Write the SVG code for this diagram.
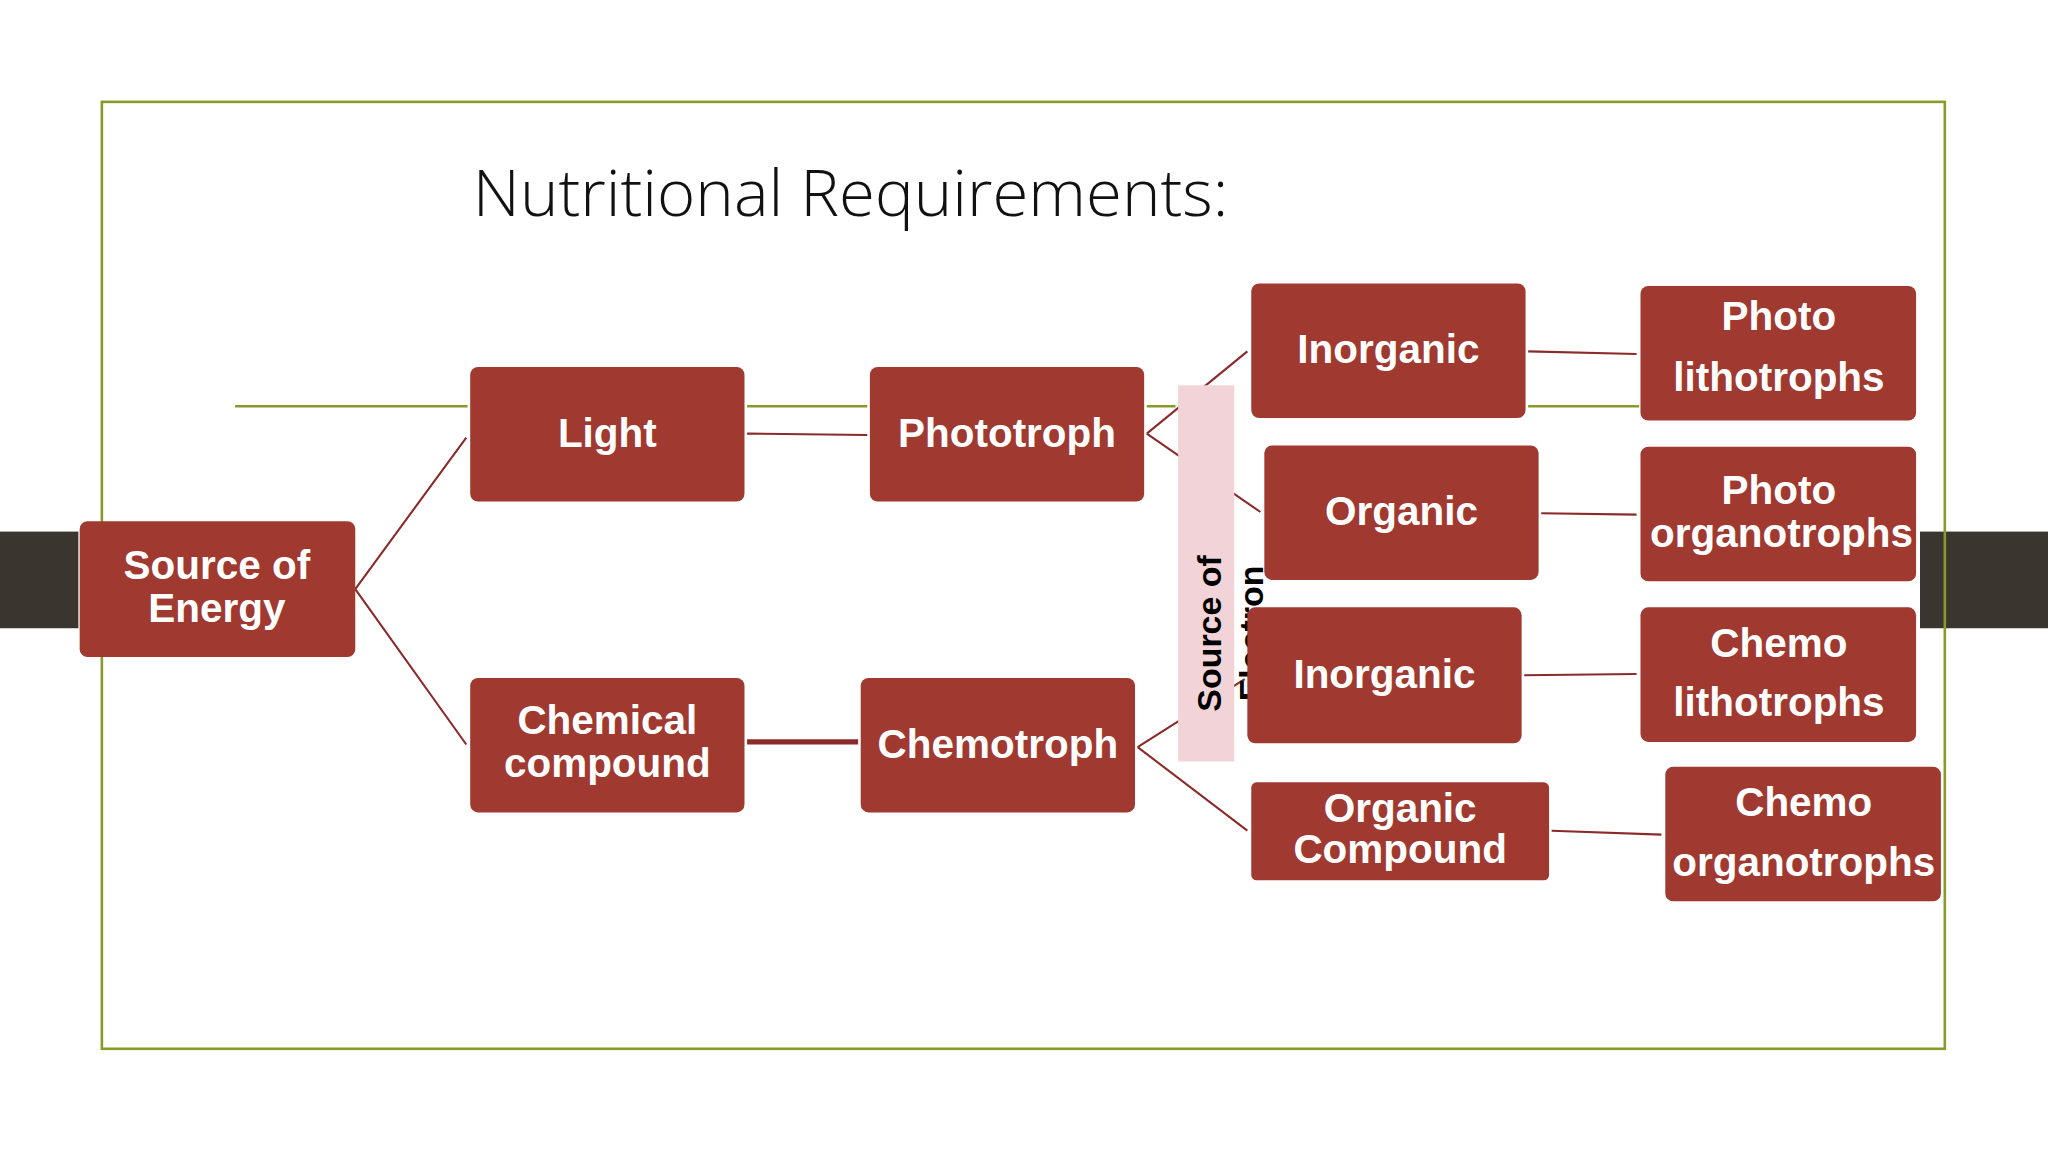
<svg xmlns="http://www.w3.org/2000/svg" width="2048" height="1152" viewBox="0 0 2048 1152">
<style>
.b{fill:#a0392f;}
.t{fill:#fff;font-family:"Liberation Sans",Arial,sans-serif;font-weight:bold;font-size:31px;text-anchor:middle;}
.c{stroke:#8b2a2a;stroke-width:1.6;fill:none;}
.o{stroke:#8a9a2a;stroke-width:2;fill:none;}
</style>
<rect width="2048" height="1152" fill="#fff"/>
<g transform="scale(1.30612)">
<rect x="0" y="407" width="60" height="74" fill="#3b3530"/>
<rect x="1470" y="407" width="98" height="74" fill="#3b3530"/>
<rect x="78" y="78" width="1411" height="725" class="o"/>
<text x="362" y="165" font-family="Open Sans,Liberation Sans,sans-serif" font-weight="300" font-size="50" fill="#111">Nutritional Requirements:</text>
<g id="olive-lines"><path class="o" d="M180 311H358M572 311H664M878 311H900M1170 311H1255"/></g>
<g id="connectors">
<path class="c" d="M272 451L357 335M272 451L357 570M572 332L664 333M878 332L955 269M878 332L965 392M871 572L953 520M871 572L955 636M1170 269L1253 271M1180 393L1253 394M1167 517L1253 516M1188 636L1272 639"/>
<path d="M572 568H657" stroke="#8b2a2a" stroke-width="4"/>
</g>
<g id="electron"><rect x="902" y="295" width="43" height="288" fill="#f2d4d8"/>
<text transform="translate(935,485) rotate(-90)" font-family="Liberation Sans,Arial,sans-serif" font-weight="bold" font-size="26" text-anchor="middle"><tspan x="0" y="0">Source of</tspan><tspan x="0" y="32">Electron</tspan></text></g>
<g id="energy"><rect class="b" x="61" y="399" width="211" height="104" rx="6"/><text class="t" x="166" y="443">Source of</text><text class="t" x="166" y="476">Energy</text></g>
<g id="light"><rect class="b" x="360" y="281" width="210" height="103" rx="6"/><text class="t" x="465" y="342">Light</text></g>
<g id="chemical"><rect class="b" x="360" y="519" width="210" height="103" rx="6"/><text class="t" x="465" y="562">Chemical</text><text class="t" x="465" y="595">compound</text></g>
<g id="phototroph"><rect class="b" x="666" y="281" width="210" height="103" rx="6"/><text class="t" x="771" y="342">Phototroph</text></g>
<g id="chemotroph"><rect class="b" x="659" y="519" width="210" height="103" rx="6"/><text class="t" x="764" y="580">Chemotroph</text></g>
<g id="inorganic1"><rect class="b" x="958" y="217" width="210" height="103" rx="6"/><text class="t" x="1063" y="278">Inorganic</text></g>
<g id="organic1"><rect class="b" x="968" y="341" width="210" height="103" rx="6"/><text class="t" x="1073" y="402">Organic</text></g>
<g id="inorganic2"><rect class="b" x="955" y="465" width="210" height="104" rx="6"/><text class="t" x="1060" y="527">Inorganic</text></g>
<g id="organic2"><rect class="b" x="958" y="599" width="228" height="75" rx="4"/><text class="t" x="1072" y="629">Organic</text><text class="t" x="1072" y="661">Compound</text></g>
<g id="photolitho"><rect class="b" x="1256" y="219" width="211" height="103" rx="6"/><text class="t" x="1362" y="253">Photo</text><text class="t" x="1362" y="299">lithotrophs</text></g>
<g id="photoorgano"><rect class="b" x="1256" y="342" width="211" height="103" rx="6"/><text class="t" x="1362" y="386">Photo</text><text class="t" x="1364" y="419">organotrophs</text></g>
<g id="chemolitho"><rect class="b" x="1256" y="465" width="211" height="103" rx="6"/><text class="t" x="1362" y="503">Chemo</text><text class="t" x="1362" y="548">lithotrophs</text></g>
<g id="chemoorgano"><rect class="b" x="1275" y="587" width="211" height="103" rx="6"/><text class="t" x="1381" y="625">Chemo</text><text class="t" x="1381" y="671">organotrophs</text></g>
</g>
</svg>
